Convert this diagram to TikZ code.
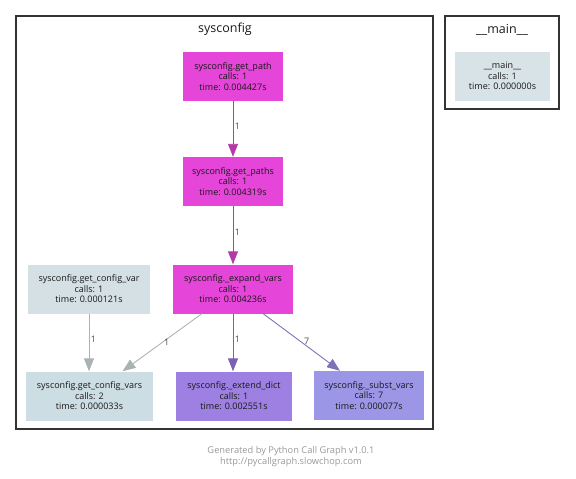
\documentclass[tikz,border=0pt]{standalone}
\usepackage{fontspec}
\setmainfont{Open Sans}
\usepackage{xcolor}
\usetikzlibrary{arrows.meta,positioning,calc}

\definecolor{hot}{HTML}{E545D8}
\definecolor{hotedge}{HTML}{B43AA8}
\definecolor{cold}{HTML}{D4E0E4}
\definecolor{colder}{HTML}{CCDDE3}
\definecolor{coldedge}{HTML}{AAB3B3}
\definecolor{violet}{HTML}{9D80E2}
\definecolor{violetedge}{HTML}{7B5FB4}
\definecolor{lilac}{HTML}{9B97E6}
\definecolor{lilacedge}{HTML}{7D74B8}
\definecolor{frame}{HTML}{333333}

\begin{document}
\begin{tikzpicture}[
    x=1pt, y=-1pt,
    fn/.style={rectangle, draw=none, minimum height=49pt,
      align=center, inner sep=0pt,
      font=\fontsize{9}{10.6}\selectfont, text=black!90},
    cluster/.style={draw=frame, line width=2.4pt, fill=none},
    title/.style={font=\fontsize{12.5}{14}\selectfont, text=black!90, anchor=base},
    arr/.style={-{Triangle[length=13pt, width=10pt]}, line width=0.9pt},
    lbl/.style={font=\fontsize{9}{10}\selectfont, text=black!70, inner sep=1.5pt},
  ]
    \useasboundingbox (0,0) rectangle (576,479);

    % Clusters
    \draw[cluster] (16,16) rectangle (433,429);
    \draw[cluster] (445,16) rectangle (559,109);
    \node[title] (systitle) at (225,32) {sysconfig};
    \node[title] (maintitle) at (502,33) {\_\_main\_\_};

    % Nodes
    \node[fn, fill=cold!90, minimum width=95pt] (main) at (502.5,76)
      {\_\_main\_\_\\calls: 1\\time: 0.000000s};
    \node[fn, fill=hot, minimum width=100pt] (path) at (233,76.5)
      {sysconfig.get\_path\\calls: 1\\time: 0.004427s};
    \node[fn, fill=hot, minimum width=100pt] (paths) at (233,181.5)
      {sysconfig.get\_paths\\calls: 1\\time: 0.004319s};
    \node[fn, fill=hot, minimum width=120pt] (expand) at (233,289)
      {sysconfig.\_expand\_vars\\calls: 1\\time: 0.004236s};
    \node[fn, fill=cold, minimum width=122pt] (cvar) at (89,289)
      {sysconfig.get\_config\_var\\calls: 1\\time: 0.000121s};
    \node[fn, fill=colder, minimum width=127pt] (cvars) at (89.5,396)
      {sysconfig.get\_config\_vars\\calls: 2\\time: 0.000033s};
    \node[fn, fill=violet, minimum width=116pt] (extend) at (234,396)
      {sysconfig.\_extend\_dict\\calls: 1\\time: 0.002551s};
    \node[fn, fill=lilac, minimum width=110pt] (subst) at (369,395.5)
      {sysconfig.\_subst\_vars\\calls: 7\\time: 0.000077s};

    % Footer
    \node[font=\fontsize{9.3}{11}\selectfont, text=black!40, align=center] (footer) at (291,456.5)
      {Generated by Python Call Graph v1.0.1\\http://pycallgraph.slowchop.com};

    % Arrows
    \draw[arr, hotedge] (path) -- node[lbl, right, pos=0.45] {1} (paths);
    \draw[arr, hotedge] (paths) -- node[lbl, right, pos=0.45] {1} (expand);
    \draw[arr, coldedge] (cvar.south) -- node[lbl, right, pos=0.45] {1} (cvar.south |- cvars.north);
    \draw[arr, coldedge] ([xshift=29pt]expand.south west) -- node[lbl, right, pos=0.5] {1} ([xshift=33pt]cvars.north);
    \draw[arr, violetedge] (expand.south) -- node[lbl, right, pos=0.45] {1} (expand.south |- extend.north);
    \draw[arr, lilacedge] ([xshift=-30pt]expand.south east) -- node[lbl, right, pos=0.48, xshift=2pt] {7} ([xshift=-29pt]subst.north);
  \end{tikzpicture}
\end{document}
